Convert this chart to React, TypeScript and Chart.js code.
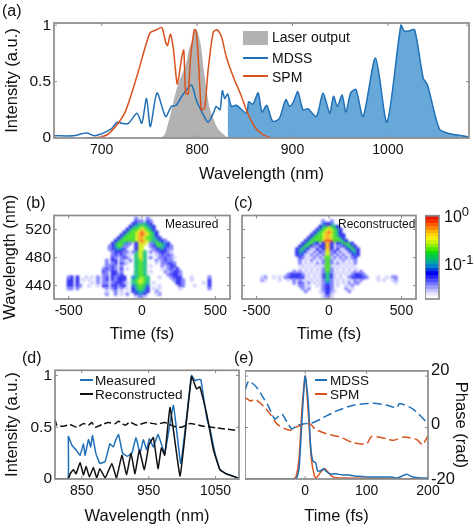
import React, { useEffect, useRef } from "react";
import { Chart, registerables } from "chart.js";
Chart.register(...registerables);

// ---------- data ----------
const aMdssNm = [650,670,684,693,710,716,721,728,737,742,747,751,758,767,773,778,784,794,799,805,811.5,817,820,824,826.5,829,832,836,841,852,854,858.5,864,868,873,879,886,893,897,901,905.5,911,916,925,932,939,943,947,952,956,961,966.5,974,987,999,1013.6,1017,1022,1028,1037,1041.5,1054,1064,1078,1084];
const aMdss = [.02,.02,.045,.02,.08,.14,.13,.13,.22,.13,.35,.1,.4,.19,.28,.29,.37,.47,.34,.23,.14,.22,.28,.25,.42,.35,.39,.28,.29,.22,.32,.3,.4,.23,.29,.15,.17,.34,.28,.32,.41,.25,.26,.19,.4,.22,.37,.28,.38,.23,.4,.43,.19,.71,.14,1,.95,.95,.96,.53,.47,.08,.04,.02,.01];
const aFillStart = 26; // index of 832 nm in the MDSS arrays
const aLaserNm = [762,766,770,774,778,782,786,789,792,795,798,801,804,807,810,813,817,822,828,832];
const aLaser = [0,.03,.14,.28,.42,.52,.6,.68,.8,.86,.97,.93,.82,.6,.42,.27,.17,.08,.03,0];
const aSpmNm = [683,700,709,724,737,750.5,757.5,763,767,769,772,775,779,781,784,786,788,790.6,793,797,799,802,804.5,808,811.5,817,821,825.5,830.6,837.6,846,853,862,869,878];
const aSpm = [0,.01,.05,.22,.55,.93,.96,.98,.85,.82,.92,.8,.48,.55,.72,.78,.4,.39,.7,.96,.95,.6,.25,.27,.6,.94,.96,.9,.72,.55,.38,.22,.08,.03,0];

const dMeasNm = [810,829.5,830,835,841.5,847.5,852.5,855,860,863.4,866,871,877,885,892,897,901,905,911,918,925,931,937,942,947,951,957,964,974,987,998,1014,1019,1023,1028,1037,1041.5,1049,1056.5,1066,1084];
const dMeas = [0,0,.41,.33,.28,.23,.34,.23,.38,.31,.42,.25,.15,.17,.34,.31,.38,.43,.25,.22,.25,.4,.25,.38,.28,.39,.31,.43,.25,.71,.15,1,.95,.96,.96,.58,.49,.25,.09,.05,.01];
const dRecNm = [810,830,832.6,837.6,841.5,847.5,852.5,856.5,861.4,867.4,872.4,877,885,895,902,910,917,923.6,929.6,936,943.5,950.5,957,964,969,974,982,997,1014,1021.6,1026.6,1037,1046.5,1056.5,1066,1084];
const dRec = [0,0,.05,.09,.05,.16,.04,.12,.02,.11,.01,.1,.01,.15,.01,.23,.04,.25,.05,.28,.09,.33,.4,.1,.3,.23,.69,.03,.99,.87,.89,.62,.29,.09,.05,.01];
const dPhaseNm = [810,812.7,822.6,832.6,842.5,852.5,860,865,870,880,890,900,905,915,922,932,947,962,974,987,999,1012,1031.6,1051.5,1081];
const dPhase = [.58,.52,.51,.525,.5,.535,.52,.545,.5,.525,.545,.535,.558,.52,.55,.52,.545,.53,.545,.51,.5,.535,.51,.494,.47];

const eMdssT = [-98,-30,-15,-10,-5,0,5,8,10,13,17,20,25,30,35,40,50,60,70,80,90,100,120,140,150,165,175,190,200];
const eMdss = [0,0,0,.1,.6,1,.75,.4,.25,.17,.16,.08,.08,.1,.07,.05,.05,.04,.04,.03,.025,.02,.02,.02,.01,.045,.02,.01,.01];
const eSpmT = [-98,-20,-15,-10,-5,0,5,10,15,18,22,27,32,38,45,55,200];
const eSpm = [0,0,.02,.2,.7,1,.65,.2,.03,.01,.04,.08,.1,.06,.02,.01,0];
const ePhaseMdssT = [-97.6,-92,-78.6,-68,-60,-51.5,-49,-38,-32.5,-21.7,-13.6,-2.7,11,30,51.5,78.6,111,133,149,154,176,198];
const ePhaseMdss = [13,16.2,13.8,10,7,2.8,2.2,4,2.2,-1.5,-.2,.4,.7,2.8,5.2,7.3,8,7.3,6.4,7.9,5.8,1];
const ePhaseSpmT = [-97.6,-89,-81,-68,-57,-46,-35,-24,-16,-5.4,8,16,35,57,78.6,100,108,133,144,160,181.6,191,199];
const ePhaseSpm = [10.1,8.9,9.5,7,4,.4,-1.2,-2,-.9,.1,.4,-1.5,-3.3,-4.5,-6.6,-7,-4.3,-5.1,-5.7,-4.5,-5.4,-7.3,-4.3];

const ticksA = [700,800,900,1000];
const ticksD = [850,950,1050];
const ticksE = [0,100,200];
const ticksTime = [-500,0,500];
const ticksWl = [440,480,520];
const ticksIntensity = [0,0.5,1];
const ticksPhase = [-20,0,20];

// heat maps: one row per wavelength; each character is a level 0..9 every 20 fs; '|' is t = 0
const heatWl = [536,532,528,524,520,516,512,508,504,500,496,492,488,484,480,476,472,468,464,460,456,452,448,444,440,436,432,428,424];
const heatMeasured = [
"..... ..... ..... ..... ...2. | ..2..",
"..... ..... ..... ..... ...32 | 2.32.",
"..... ..... ..... ..... ..345 | 5543.",
"..... ..... ..... ..... .3556 | 76543",
"..... ..... ..... ..... 35667 | 87653",
"..... ..... ..... ....3 56678 | 98765 3....",
"..... ..... ..... ...35 66678 | 98765 3....",
"..... ..... ..... ..356 66678 | 87665 43...",
"..... ..... ..... .3566 66678 | 98765 6432.",
"..... ..... ..... 35665 42.37 | 87.24 66543",
"..... ..... ....2 35662 2..37 | 7..23 56543 2....",
"..... ..... ....2 34543 ...37 | 7...2 34532 2....",
"..... ..... ..... 23332 2.257 | 75.2. 23332 1....",
"..... ..... ..... 23232 .1.57 | 75... 12323 2....",
"..... ..... ..... 32.23 2..57 | 75.2. .2232 21...",
"..... ..... ...2. 33.2. .2.56 | 75... 2.232 2....",
"..... ..... ...2. 23.32 1..56 | 65... 1.223 32...",
"..... ..... ...22 32.2. ...56 | 65.1. ..2.2 33...",
"..... ..... ..232 32.3. 1..56 | 65... ..1.2 323..",
"..... ..... ..32. 33.2. ...56 | 65.1. ...2. 2332.",
"..... ..... ..22. 3323. ...56 | 65... ....2 3332.",
"23.3. .1.1. 2.23. 32333 ..456 | 765.. .1... 2333. ..1.. ...2.",
"33.3. 1.1.. 2.23. 32333 ..567 | 765.. ..... .2332 ..1.. ...3.",
"33.3. ...1. 2.22. 23332 1.567 | 765.1 ..... ..332 ..... .1.3.",
"33.32 ..1.. 1.33. 33233 ..456 | 654.. .1... ...32 ...1. ...3.",
"22.2. ..... ...2. 23.2. 1.356 | 653.1 .1... ...1. ..... ...2.",
"..... ..... ...1. .2.1. ..345 | 543.. 2....",
"..... ..... ...2. .2.1. 2..34 | 43... 12...",
"..... ..... ..... ..... ...12 | 21...",
];
const heatReconstructed = [
"..... ..... ..... ..... ..... | .....",
"..... ..... ..... ..... ...2. | .2...",
"..... ..... ..... ..... ...43 | 34...",
"..... ..... ..... ..... ..356 | 7653.",
"..... ..... ..... ..... .3567 | 87653",
"..... ..... ..... ..... 35678 | 98653",
"..... ..... ..... ....3 56678 | 87653 3....",
"..... ..... ..... ...35 66678 | 87665 3....",
"..... ..... ..... ..356 66689 | 99666 53...",
"..... ..... ..... .3566 43.38 | 83.34 6653.",
"..... ..... ..... 35653 2.338 | 83.22 35653",
"..... ..... ....3 56431 .3.38 | 83.3. 13465 3....",
"..... ..... ....3 5431. 2.327 | 723.2 .1345 3....",
"..... ..... ....3 431.2 .2.27 | 72.2. 2.134 3....",
"..... ..... ..... 32.1. 2.2.6 | 6.2.2 .2.23 .....",
"..... ..... ..... 2.1.2 .1.26 | 62.1. 2.1.2",
"..... ..... ..... 2.1.1 .2.26 | 62.2. 1.1.2",
"..... ..... ..... .1.1. 1.1.6 | 6.1.1 .1.1.",
"..... ..... ..... 1.1.1 .1.26 | 62.1. 1.1.1",
"..... ..... ...2. 2.1.1 .1.26 | 62.1. 1.1.2 .2...",
"..... ..... .2333 32.1. 1.135 | 531.1 .1.23 332..",
"..12. .1.1. 23333 33.1. 1.135 | 531.1 ..233 3332. ..1.. 1.22.",
"..21. ...1. .1.2. 2.1.1 .1.25 | 52.1. 1.1.2 .2... ..1.1 ..12.",
"..... ..... ...2. 32.2. 1.124 | 42.1. 1.2.2 2.... ..... ...1.",
"..... ..... ..... 22.1. .1.23 | 32.1. .1.2.",
"..... ..... ..... .2.2. ...23 | 32... .2.1.",
"..... ..... ..... ..2.. ..123 | 321.. ..2..",
"..... ..... ..... ..... ...13 | 31...",
"..... ..... ..... ..... ...12 | 21...",
];
const heatColors = ["","#c9c9ff","#6f6fff","#1414ee","#0078d0","#00b878","#30dc10","#c8f000","#ffa800","#f02000"];
const colorbarColors = ["#ffffff","#e6e6ff","#c4c4ff","#9d9dff","#7474ff","#4a4aff","#2020ff","#0000f0","#0040e0","#0080d0","#00a0a8","#00b878","#00cc40","#10dc10","#50e800","#90f000","#c8f400","#f0f000","#ffd800","#ffb000","#ff8800","#ff5c00","#f83000","#e81800"];

const BLUE = "#1f70b8";
const ORANGE = "#d9531e";
const FILL = "#68a8d8";
const GREY = "#b2b2b2";
const FRAME = "#8b8b8b";
const FONT = "'Liberation Sans', Arial, sans-serif";

// ---------- helpers ----------
const xy = (xs: number[], ys: number[]) => xs.map((x, i) => ({ x, y: ys[i] }));

function heatPoints(rows: string[], level: number) {
  const out: { x: number; y: number }[] = [];
  rows.forEach((row, r) => {
    const [l, rt] = row.split("|").map((s) => s.replace(/ /g, ""));
    [...l].forEach((c, i) => {
      if (c === String(level)) out.push({ x: -20 * (l.length - i), y: heatWl[r] });
    });
    [...rt].forEach((c, i) => {
      if (c === String(level)) out.push({ x: 20 * i, y: heatWl[r] });
    });
  });
  return out;
}

const softPlugin = {
  id: "soft",
  beforeDatasetsDraw(chart: any) {
    chart.ctx.save();
    chart.ctx.filter = "blur(1.1px)";
  },
  afterDatasetsDraw(chart: any) {
    chart.ctx.filter = "none";
    chart.ctx.restore();
  },
};

const framePlugin = {
  id: "frame",
  afterDatasetsDraw(chart: any) {
    const { ctx, chartArea: a, scales } = chart;
    ctx.save();
    ctx.filter = "none";
    ctx.strokeStyle = FRAME;
    ctx.lineWidth = 1;
    ctx.beginPath();
    const tl = 3;
    if (scales.x && scales.x.options.display) {
      for (const t of scales.x.ticks) {
        const p = scales.x.getPixelForValue(t.value);
        ctx.moveTo(p, a.bottom); ctx.lineTo(p, a.bottom - tl);
        ctx.moveTo(p, a.top); ctx.lineTo(p, a.top + tl);
      }
    }
    if (scales.y && scales.y.options.display) {
      for (const t of scales.y.ticks) {
        const p = scales.y.getPixelForValue(t.value);
        ctx.moveTo(a.left, p); ctx.lineTo(a.left + tl, p);
        ctx.moveTo(a.right, p); ctx.lineTo(a.right - tl, p);
      }
    }
    ctx.stroke();
    ctx.lineWidth = 1.7;
    ctx.strokeRect(a.left, a.top, a.right - a.left, a.bottom - a.top);
    ctx.restore();
  },
};

function xScale(min: number, max: number, ticks: number[], h: number, title?: string, size = 14) {
  return {
    type: "linear", position: "bottom", min, max,
    afterBuildTicks: (s: any) => { s.ticks = ticks.map((value) => ({ value })); },
    afterFit: (s: any) => { s.height = h; },
    grid: { display: false, drawTicks: false },
    border: { display: false },
    ticks: { color: "#111", padding: 4, maxRotation: 0, autoSkip: false, font: { family: FONT, size }, callback: (v: any) => String(v) },
    title: title ? { display: true, text: title, color: "#111", padding: 0, font: { family: FONT, size: 16.5 } } : { display: false },
  };
}
function yScale(min: number, max: number, ticks: number[], w: number, title?: string, labels = true, size = 15.5, titlePad = 3) {
  return {
    type: "linear", position: "left", min, max,
    afterBuildTicks: (s: any) => { s.ticks = ticks.map((value) => ({ value })); },
    afterFit: (s: any) => { s.width = w; },
    grid: { display: false, drawTicks: false },
    border: { display: false },
    ticks: { display: labels, color: "#111", padding: 3, autoSkip: false, font: { family: FONT, size }, callback: (v: any) => String(v) },
    title: title ? { display: true, text: title, color: "#111", padding: { top: titlePad, bottom: 0 }, font: { family: FONT, size: 16.5 } } : { display: false },
  };
}
const line = (data: any[], color: string, extra: any = {}) => ({
  type: "scatter", data, showLine: true, borderColor: color, backgroundColor: color,
  borderWidth: 1.5, pointRadius: 0, tension: 0.25, ...extra,
});

function scatterOptions(scales: any, padding: any) {
  return {
    responsive: false, animation: false as const,
    layout: { padding },
    plugins: { legend: { display: false }, tooltip: { enabled: false } },
    scales,
  };
}

function heatChart(rows: string[], xAxisH: number, yW: number, yTitle: string | undefined, yLabels: boolean) {
  const datasets = [1,2,3,4,5,6,7,8,9].map((lv) => ({
    type: "scatter", data: heatPoints(rows, lv), pointStyle: "rect", pointRadius: 2.4,
    pointBackgroundColor: heatColors[lv], pointBorderWidth: 0,
  }));
  return {
    type: "scatter", data: { datasets },
    options: scatterOptions({
      x: xScale(-600, 600, ticksTime, xAxisH, "Time (fs)"),
      y: yScale(421, 540, ticksWl, yW, yTitle, yLabels, 15.5, 1),
    }, { top: 30.5, right: 2 }),
    plugins: [softPlugin, framePlugin],
  };
}

const PANELS: { key: string; left: number; top: number; w: number; h: number; config: () => any }[] = [
  { key: "a", left: 0, top: 8, w: 471, h: 176, config: () => ({
    type: "scatter",
    data: { datasets: [
      line(xy(aSpmNm, aSpm), ORANGE, { order: 1 }),
      line(xy(aMdssNm, aMdss), BLUE, { order: 2 }),
      line(xy(aMdssNm.slice(aFillStart), aMdss.slice(aFillStart)), FILL, { fill: "origin", backgroundColor: FILL, borderWidth: 0, order: 3 }),
      line(xy(aLaserNm, aLaser), GREY, { fill: "origin", backgroundColor: GREY, borderWidth: 0, order: 4 }),
    ] },
    options: scatterOptions({ x: xScale(650, 1085, ticksA, 46, "Wavelength (nm)"), y: yScale(0, 1.02, ticksIntensity, 54, "Intensity (a.u.)") }, { top: 15, right: 2 }),
    plugins: [framePlugin],
  }) },
  { key: "b", left: 0, top: 185, w: 234, h: 159, config: () => heatChart(heatMeasured, 45, 54, "Wavelength (nm)", true) },
  { key: "c", left: 232, top: 185, w: 188, h: 159, config: () => heatChart(heatReconstructed, 45, 10, undefined, false) },
  { key: "cb", left: 425, top: 205, w: 16, h: 104, config: () => ({
    type: "bar",
    data: { labels: colorbarColors.map((_, i) => String(i)), datasets: [{ data: colorbarColors.map(() => 1), backgroundColor: colorbarColors, borderColor: colorbarColors, borderWidth: 0.5, barPercentage: 1, categoryPercentage: 1 }] },
    options: {
      indexAxis: "y", responsive: false, animation: false as const,
      layout: { padding: { top: 10.7, bottom: 10, right: 2 } },
      plugins: { legend: { display: false }, tooltip: { enabled: false } },
      scales: { x: { display: false, min: 0, max: 1 }, y: { display: false, reverse: true } },
    },
    plugins: [framePlugin],
  }) },
  { key: "d", left: 0, top: 358, w: 241, h: 168, config: () => ({
    type: "scatter",
    data: { datasets: [
      line(xy(dPhaseNm, dPhase), "#111", { borderDash: [7, 3], tension: 0.2 }),
      line(xy(dRecNm, dRec), "#111", { tension: 0.1 }),
      line(xy(dMeasNm, dMeas), BLUE, { tension: 0.1 }),
    ] },
    options: scatterOptions({ x: xScale(810, 1085, ticksD, 47, "Wavelength (nm)"), y: yScale(0, 1.05, ticksIntensity, 55, "Intensity (a.u.)") }, { top: 12, right: 2 }),
    plugins: [framePlugin],
  }) },
  { key: "e", left: 245, top: 358, w: 225, h: 168, config: () => ({
    type: "scatter",
    data: { datasets: [
      line(xy(ePhaseMdssT, ePhaseMdss), BLUE, { yAxisID: "y1", borderDash: [9, 4] }),
      line(xy(ePhaseSpmT, ePhaseSpm), ORANGE, { yAxisID: "y1", borderDash: [9, 4] }),
      line(xy(eMdssT, eMdss), BLUE, { tension: 0.2 }),
      line(xy(eSpmT, eSpm), ORANGE, { tension: 0.2 }),
    ] },
    options: scatterOptions({
      x: xScale(-98, 200, ticksE, 47, "Time (fs)"),
      y: yScale(0, 1.05, ticksIntensity, 0, undefined, false),
      y1: {
        ...yScale(-20, 20, ticksPhase, 42, "Phase (rad)", true, 16.5, 0),
        position: "right",
      },
    }, { top: 12, right: 0 }),
    plugins: [framePlugin],
  }) },
];

const text = (left: number, cy: number, size: number): React.CSSProperties => ({
  position: "absolute", left, top: cy - size * 0.6, height: size * 1.2, lineHeight: `${size * 1.2}px`,
  fontFamily: FONT, fontSize: size, color: "#111", whiteSpace: "nowrap",
});
const swatch = (left: number, cy: number, w: number, color: string): React.CSSProperties => ({
  position: "absolute", left, top: Math.round(cy - 1), width: w, height: 2, background: color,
});

function Panel({ config, left, top, w, h }: any) {
  const ref = useRef<HTMLCanvasElement>(null);
  useEffect(() => {
    const chart = new Chart(ref.current as any, config());
    return () => chart.destroy();
  }, []);
  return <canvas ref={ref} width={w} height={h} style={{ position: "absolute", left, top, width: w, height: h }} />;
}

export default function App() {
  return (
    <div style={{ position: "fixed", left: 0, top: 0, width: 474, height: 528, background: "#fff", overflow: "hidden" }}>
      {PANELS.map((p) => <Panel key={p.key} {...p} />)}

      <div style={text(2, 11, 16)}>(a)</div>
      <div style={text(26, 203, 16)}>(b)</div>
      <div style={text(234, 203, 16)}>(c)</div>
      <div style={text(22, 358, 16)}>(d)</div>
      <div style={text(234, 358, 16)}>(e)</div>

      <div style={{ position: "absolute", left: 243, top: 31, width: 25, height: 14, background: GREY }} />
      <div style={text(272, 37.5, 14)}>Laser output</div>
      <div style={swatch(243, 57.5, 25, BLUE)} />
      <div style={text(272, 58, 14)}>MDSS</div>
      <div style={swatch(243, 76, 25, ORANGE)} />
      <div style={text(272, 77, 14)}>SPM</div>

      <div style={text(165, 224.5, 12)}>Measured</div>
      <div style={text(338, 224.5, 12)}>Reconstructed</div>

      <div style={text(444, 217, 16)}>10<sup style={{ fontSize: 13, lineHeight: 0 }}>0</sup></div>
      <div style={text(444, 265, 16)}>10<sup style={{ fontSize: 13, lineHeight: 0 }}>-1</sup></div>

      <div style={swatch(80, 380, 13, BLUE)} />
      <div style={text(95, 381, 13.6)}>Measured</div>
      <div style={swatch(80, 394, 13, "#111")} />
      <div style={text(95, 395, 13.6)}>Reconstructed</div>

      <div style={swatch(315, 380, 12, BLUE)} />
      <div style={text(330, 381, 13.5)}>MDSS</div>
      <div style={swatch(315, 394, 12, ORANGE)} />
      <div style={text(330, 395, 13.5)}>SPM</div>
    </div>
  );
}
